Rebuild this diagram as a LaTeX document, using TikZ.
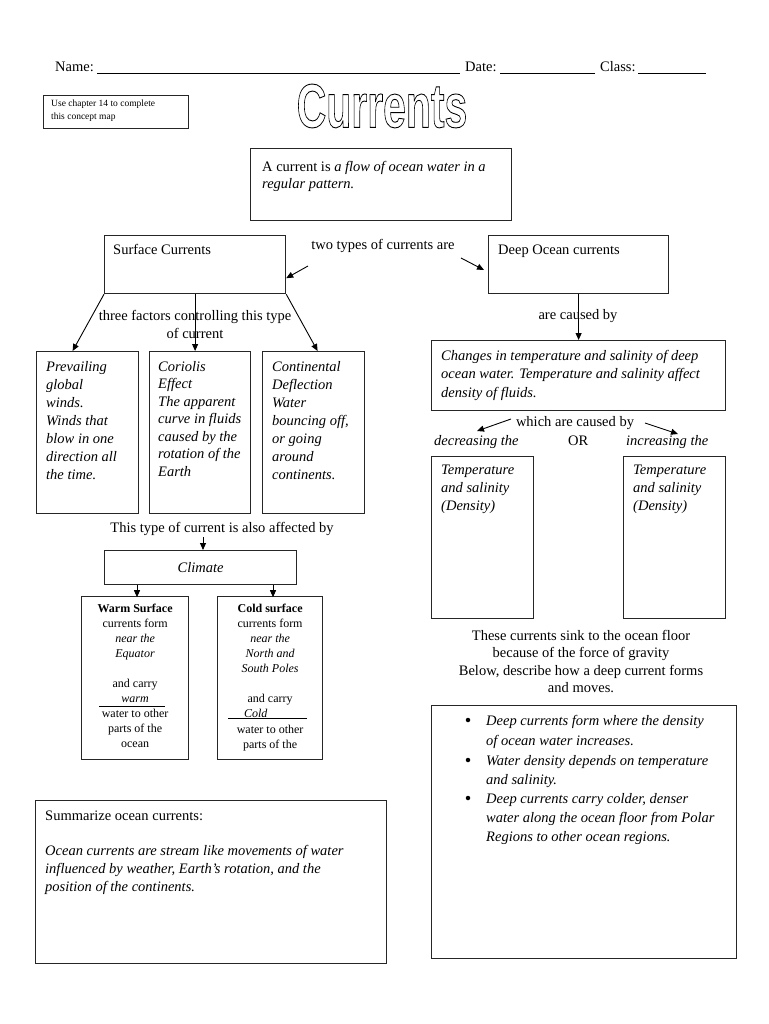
\documentclass[tikz,border=0pt]{standalone}
\usepackage{fontspec}
\setmainfont{Liberation Serif}
\newfontfamily\titlefont{Liberation Sans}
\usetikzlibrary{arrows.meta,calc}
\begin{document}
\begin{tikzpicture}[x=1pt,y=1pt,
  box/.style={draw=black!85, line width=1.2pt, inner sep=0pt, anchor=north west},
  arr/.style={-{Triangle[length=7pt,width=6pt]}, line width=0.9pt},
  ln/.style={line width=0.8pt},
  tm/.style={font=\fontsize{14.5}{18}\selectfont, inner sep=0pt},
  ti/.style={font=\fontsize{14.5}{18}\selectfont\itshape, inner sep=0pt},
  ts/.style={font=\fontsize{12}{15}\selectfont, inner sep=0pt},
  dot/.style={circle, fill=black, inner sep=0pt, minimum size=4.5pt},
]
\path[use as bounding box, fill=white] (0,0) rectangle (768,-1024);

% header
\node[tm, anchor=base west] (name) at (55,-72) {Name:};
\draw[ln] (97,-73) -- (460,-73);
\node[tm, anchor=base west] (date) at (465,-72) {Date:};
\draw[ln] (500,-73) -- (595,-73);
\node[tm, anchor=base west] (class) at (600,-72) {Class:};
\draw[ln] (638,-73) -- (706,-73);

% hint box
\node[box, minimum width=145, minimum height=33] (hint) at (43,-95) {};
\node[font=\fontsize{9.5}{13}\selectfont, anchor=north west, align=left, inner sep=0pt] (hinttxt) at (51,-100) {Use chapter 14 to complete\\this concept map};

% title
\node[inner sep=0pt] (title) at (382,-106) {\titlefont\bfseries\fontsize{62}{62}\selectfont\scalebox{0.66}[1]{\special{pdf:code 1 Tr 0.9 w}Currents\special{pdf:code 0 Tr}}};

% definition
\node[box, minimum width=261, minimum height=72] (def) at (250,-148) {};
\node[tm, anchor=north west, align=left, font=\fontsize{14.5}{17}\selectfont] (deftxt) at (262,-161) {A current is \textit{a flow of ocean water in a}\\\textit{regular pattern.}};

% two types
\node[box, minimum width=181, minimum height=58] (surf) at (104,-235) {};
\node[tm, anchor=base west] (surftxt) at (113,-254) {Surface Currents};
\node[box, minimum width=180, minimum height=58] (deep) at (488,-235) {};
\node[tm, anchor=base west] (deeptxt) at (498,-254) {Deep Ocean currents};
\node[tm, anchor=base] (twotypes) at (383,-249) {two types of currents are};
\coordinate (tta) at (308,-266);
\coordinate (ttb) at (461,-258);
\draw[arr] (tta) -- ($(surf.south east)+(0,16)$);
\draw[arr] (ttb) -- ($(deep.north west)+(-4,-35)$);

% three factors
\node[box, minimum width=102, minimum height=162] (prev) at (36,-351) {};
\node[box, minimum width=101, minimum height=162] (cor) at (149,-351) {};
\node[box, minimum width=102, minimum height=162] (cont) at (262,-351) {};
\draw[arr] (surf.south west) -- ($(prev.north)+(-15,0)$);
\draw[arr] (surf.south) -- (surf.south |- cor.north);
\draw[arr] (surf.south east) -- ($(cont.north)+(4,0)$);
\node[tm, align=center, anchor=north] (three) at (195,-310) {three factors controlling this type\\of current};
\node[ti, anchor=north west, align=left] (prevtxt) at (46,-361) {Prevailing\\global\\winds.\\Winds that\\blow in one\\direction all\\the time.};
\node[ti, anchor=north west, align=left, font=\fontsize{14.5}{17.5}\selectfont\itshape] (cortxt) at (158,-361) {Coriolis\\Effect\\The apparent\\curve in fluids\\caused by the\\rotation of the\\Earth};
\node[ti, anchor=north west, align=left] (conttxt) at (272,-361) {Continental\\Deflection\\Water\\bouncing off,\\or going\\around\\continents.};

% climate
\node[tm, anchor=base] (also) at (222,-532) {This type of current is also affected by};
\node[box, minimum width=192, minimum height=34] (clim) at (104,-550) {};
\node[ti] (climtxt) at (clim.center) {Climate};
\coordinate (alsoarr) at (203,-537);
\draw[arr] (alsoarr) -- (alsoarr |- clim.north);
\node[box, minimum width=107, minimum height=163] (warm) at (81,-596) {};
\node[box, minimum width=105, minimum height=163] (cold) at (217,-596) {};
\draw[arr] ($(clim.south west)+(33,0)$) -- ($(clim.south west)+(33,-12)$);
\draw[arr] ($(clim.south west)+(169,0)$) -- ($(clim.south west)+(169,-12)$);
\node[ts, align=center, anchor=north] (warmtxt) at ($(warm.north)+(0,-8)$) {\textbf{Warm Surface}\\currents form\\\textit{near the}\\\textit{Equator}\\~\\and carry\\\textit{warm}\\water to other\\parts of the\\ocean};
\draw[ln] ($(warm.north west)+(18,-110)$) -- ($(warm.north west)+(84,-110)$);
\node[ts, align=center, anchor=north] (coldtxt) at ($(cold.north)+(0,-8)$) {\textbf{Cold surface}\\currents form\\\textit{near the}\\\textit{North and}\\\textit{South Poles}\\~\\and carry\\\makebox[60pt][l]{\hspace{4pt}\textit{Cold}}\\[1pt]water to other\\parts of the};
\draw[ln] ($(cold.north west)+(11,-122)$) -- ($(cold.north west)+(90,-122)$);

% deep side
\node[tm, anchor=base] (caused) at (578,-319) {are caused by};
\node[box, minimum width=294, minimum height=70] (chg) at (431,-340) {};
\draw[arr] (deep.south) -- (deep.south |- chg.north);
\node[ti, anchor=north west, align=left, font=\fontsize{14.5}{18.5}\selectfont\itshape] (chgtxt) at (441,-350) {Changes in temperature and salinity of deep\\ocean water. Temperature and salinity affect\\density of fluids.};
\node[tm, anchor=base] (which) at (575,-426) {which are caused by};
\coordinate (wl) at (511,-419);
\coordinate (wlt) at (477,-431);
\coordinate (wr) at (645,-423);
\coordinate (wrt) at (678,-434);
\draw[arr] (wl) -- (wlt);
\draw[arr] (wr) -- (wrt);
\node[ti, anchor=base west] (decr) at (434,-445) {decreasing the};
\node[tm, anchor=base west] (or) at (568,-445) {OR};
\node[ti, anchor=base west] (incr) at (626,-445) {increasing the};
\node[box, minimum width=102, minimum height=162] (tl) at (431,-456) {};
\node[box, minimum width=102, minimum height=162] (tr) at (623,-456) {};
\node[ti, anchor=north west, align=left] (tltxt) at (441,-465) {Temperature\\and salinity\\(Density)};
\node[ti, anchor=north west, align=left] (trtxt) at (633,-465) {Temperature\\and salinity\\(Density)};

\node[tm, align=center, anchor=north, font=\fontsize{14.5}{17.5}\selectfont] (sink) at (581,-630) {These currents sink to the ocean floor\\because of the force of gravity\\Below, describe how a deep current forms\\and moves.};

% bullets
\node[box, minimum width=305, minimum height=253] (bul) at (431,-705) {};
\node[dot] (b1) at (468,-720) {};
\node[dot] (b2) at (468,-760) {};
\node[dot] (b3) at (468,-798) {};
\node[ti, anchor=north west, align=left, font=\fontsize{14.5}{20}\selectfont\itshape] (b1txt) at (486,-715) {Deep currents form where the density\\of ocean water increases.};
\node[ti, anchor=north west, align=left, font=\fontsize{14.5}{19}\selectfont\itshape] (b2txt) at (486,-755) {Water density depends on temperature\\and salinity.};
\node[ti, anchor=north west, align=left, font=\fontsize{14.5}{19}\selectfont\itshape] (b3txt) at (486,-793) {Deep currents carry colder, denser\\water along the ocean floor from Polar\\Regions to other ocean regions.};

% summary
\node[box, minimum width=351, minimum height=163] (sum) at (35,-800) {};
\node[tm, anchor=base west] (sumh) at (45,-820) {Summarize ocean currents:};
\node[ti, anchor=north west, align=left] (sumtxt) at (45,-845) {Ocean currents are stream like movements of water\\influenced by weather, Earth's rotation, and the\\position of the continents.};
\end{tikzpicture}
\end{document}
